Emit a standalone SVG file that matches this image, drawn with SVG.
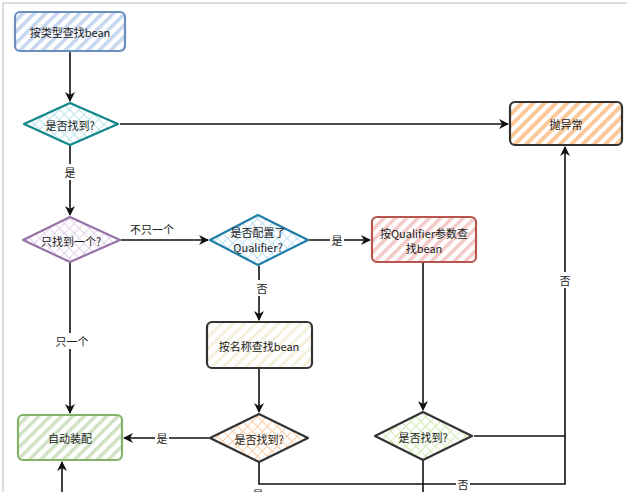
<svg xmlns="http://www.w3.org/2000/svg" width="627" height="492" viewBox="0 0 627 492">
<style>
text{font-family:"Noto Sans CJK SC","Liberation Sans",sans-serif;font-size:11px;fill:#222;text-anchor:middle;dominant-baseline:central}
.c{stroke:#111;stroke-width:1.6;fill:none}
.lb{fill:#fff}
.n{stroke-width:2.2;stroke-linejoin:round}
</style>
<defs>
<marker id="ar" markerWidth="10" markerHeight="10" refX="9" refY="5" orient="auto" markerUnits="userSpaceOnUse"><path d="M0,0L10,5L0,10L3,5Z" fill="#111"/></marker>
<pattern id="hb" width="8" height="8" patternUnits="userSpaceOnUse" patternTransform="rotate(45)"><rect width="8" height="8" fill="#fff"/><rect width="3.5" height="8" fill="#c5d6ee"/></pattern>
<pattern id="ho" width="8" height="8" patternUnits="userSpaceOnUse" patternTransform="rotate(45)"><rect width="8" height="8" fill="#fff"/><rect width="4" height="8" fill="#fbc89a"/></pattern>
<pattern id="hr" width="8" height="8" patternUnits="userSpaceOnUse" patternTransform="rotate(45)"><rect width="8" height="8" fill="#fff"/><rect width="3.5" height="8" fill="#f4c9c7"/></pattern>
<pattern id="hg" width="8" height="8" patternUnits="userSpaceOnUse" patternTransform="rotate(45)"><rect width="8" height="8" fill="#fff"/><rect width="3.5" height="8" fill="#cfe3c4"/></pattern>
<pattern id="hy" width="8" height="8" patternUnits="userSpaceOnUse" patternTransform="rotate(45)"><rect width="8" height="8" fill="#fff"/><rect width="3" height="8" fill="#f5f0dc"/></pattern>
<pattern id="xt" width="7" height="7" patternUnits="userSpaceOnUse" patternTransform="rotate(45)"><rect width="7" height="7" fill="#fff"/><path d="M0,0V7M0,0H7" stroke="#a8dde0" stroke-width="1.5"/></pattern>
<pattern id="xp" width="7" height="7" patternUnits="userSpaceOnUse" patternTransform="rotate(45)"><rect width="7" height="7" fill="#fff"/><path d="M0,0V7M0,0H7" stroke="#d9c6e4" stroke-width="1.5"/></pattern>
<pattern id="xb" width="7" height="7" patternUnits="userSpaceOnUse" patternTransform="rotate(45)"><rect width="7" height="7" fill="#fff"/><path d="M0,0V7M0,0H7" stroke="#aad8ee" stroke-width="1.5"/></pattern>
<pattern id="xo" width="7" height="7" patternUnits="userSpaceOnUse" patternTransform="rotate(45)"><rect width="7" height="7" fill="#fff"/><path d="M0,0V7M0,0H7" stroke="#fbbf8e" stroke-width="1.5"/></pattern>
<pattern id="xg" width="7" height="7" patternUnits="userSpaceOnUse" patternTransform="rotate(45)"><rect width="7" height="7" fill="#fff"/><path d="M0,0V7M0,0H7" stroke="#c6e49a" stroke-width="1.5"/></pattern>
</defs>
<rect width="627" height="492" fill="#fff"/>
<path d="M3,3H627M3,3V492" stroke="#bbb" stroke-width="1" fill="none"/>
<g id="connectors">
<path class="c" d="M70,52V101" marker-end="url(#ar)"/>
<path class="c" d="M120,124H508" marker-end="url(#ar)"/>
<path class="c" d="M70,146V215" marker-end="url(#ar)"/>
<path class="c" d="M121,240H208" marker-end="url(#ar)"/>
<path class="c" d="M309,240H370" marker-end="url(#ar)"/>
<path class="c" d="M259,266V320" marker-end="url(#ar)"/>
<path class="c" d="M70,263V413" marker-end="url(#ar)"/>
<path class="c" d="M259,369V412" marker-end="url(#ar)"/>
<path class="c" d="M209,438H124" marker-end="url(#ar)"/>
<path class="c" d="M423,263V410" marker-end="url(#ar)"/>
<path class="c" d="M474,436H565V147" marker-end="url(#ar)"/>
<path class="c" d="M259,462V484H565V436"/>
<path class="c" d="M423,461V492"/>
<path class="c" d="M62,492V462" marker-end="url(#ar)"/>
<text x="316" y="116" class="lb">否</text>
<rect x="63" y="164" width="14" height="16" class="lb"/><text x="70" y="172">是</text>
<text x="152" y="229">不只一个</text>
<rect x="330" y="232" width="14" height="16" class="lb"/><text x="337" y="240">是</text>
<rect x="255" y="280" width="14" height="16" class="lb"/><text x="262" y="288">否</text>
<rect x="52" y="333" width="40" height="16" class="lb"/><text x="72" y="341">只一个</text>
<rect x="155" y="430" width="14" height="16" class="lb"/><text x="162" y="438">是</text>
<rect x="558" y="272" width="14" height="16" class="lb"/><text x="565" y="280">否</text>
<rect x="456" y="476" width="14" height="16" class="lb"/><text x="463" y="484">否</text>
<text x="258" y="494">是</text>
</g>
<g id="n1"><rect x="15" y="12" width="110" height="39" rx="5" class="n" fill="url(#hb)" stroke="#6c8ebf"/><text x="70" y="32">按类型查找bean</text></g>
<g id="n2"><path d="M24,124L70,103L118,124L70,145Z" class="n" fill="url(#xt)" stroke="#12878a"/><text x="70" y="125">是否找到?</text></g>
<g id="n3"><rect x="510" y="102" width="112" height="43" rx="5" class="n" fill="url(#ho)" stroke="#333"/><text x="566" y="124">抛异常</text></g>
<g id="n4"><path d="M23,240L70,217L120,240L70,262Z" class="n" fill="url(#xp)" stroke="#9673a6"/><text x="71" y="241">只找到一个?</text></g>
<g id="n5"><path d="M210,240L258,215L308,240L258,265Z" class="n" fill="url(#xb)" stroke="#1f7ea8"/><text x="258" y="232">是否配置了</text><text x="258" y="247">Qualifier?</text></g>
<g id="n6"><rect x="372" y="217" width="104" height="45" rx="5" class="n" fill="url(#hr)" stroke="#b85450"/><text x="424" y="233">按Qualifier参数查</text><text x="424" y="248">找bean</text></g>
<g id="n7"><rect x="207" y="322" width="105" height="46" rx="5" class="n" fill="url(#hy)" stroke="#333"/><text x="259" y="346">按名称查找bean</text></g>
<g id="n8"><path d="M210,438L259,414L308,438L259,462Z" class="n" fill="url(#xo)" stroke="#333"/><text x="259" y="439">是否找到?</text></g>
<g id="n9"><path d="M375,436L423,412L472,436L423,460Z" class="n" fill="url(#xg)" stroke="#333"/><text x="423" y="437">是否找到?</text></g>
<g id="n10"><rect x="18" y="415" width="104" height="45" rx="5" class="n" fill="url(#hg)" stroke="#82b366"/><text x="70" y="438">自动装配</text></g>
</svg>
